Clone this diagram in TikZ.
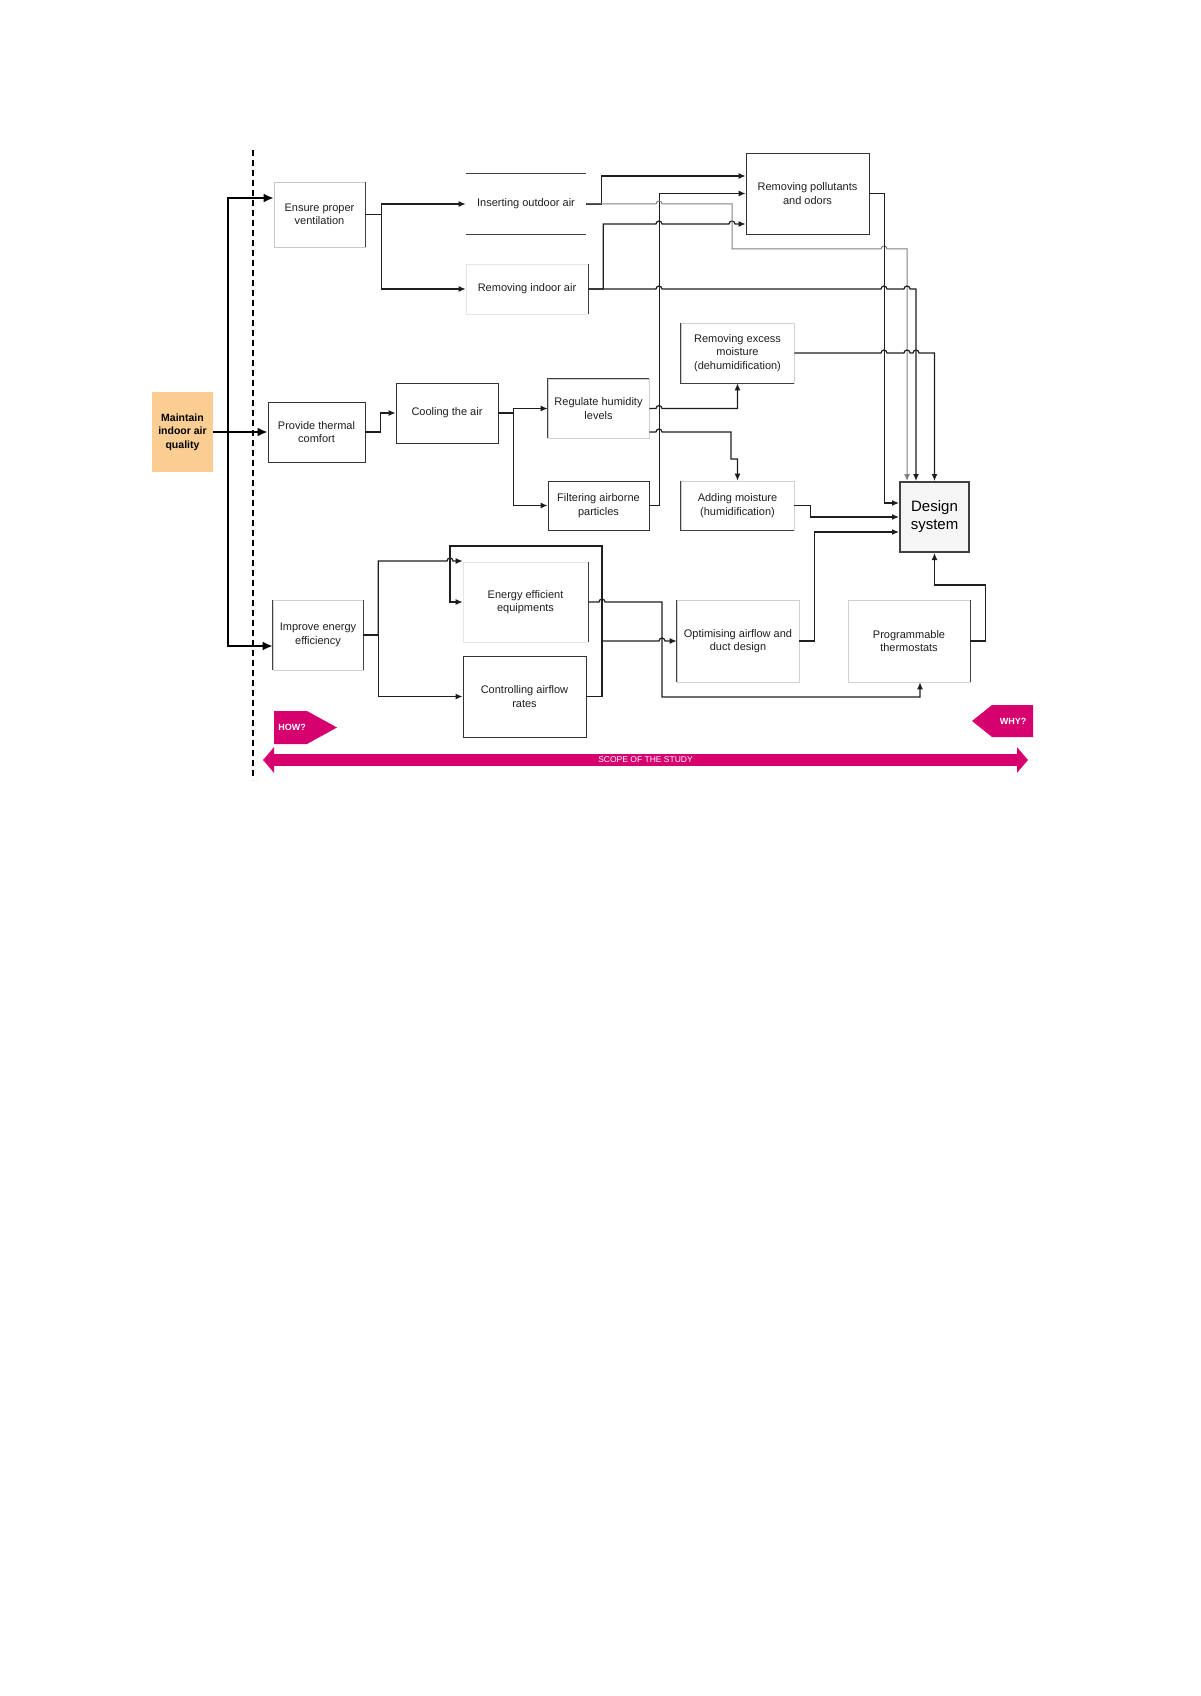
\documentclass[tikz,border=0pt]{standalone}
\usepackage{fontspec}
\setmainfont{Liberation Sans}
\usetikzlibrary{arrows.meta,calc}
\definecolor{iaqorange}{RGB}{250,206,146}
\definecolor{iaqpink}{RGB}{214,0,111}
\definecolor{iaqink}{RGB}{30,30,30}
\newcommand{\hopat}[2]{-- (#1-3,#2) arc[start angle=180,end angle=360,radius=3]}

\begin{document}
\begin{tikzpicture}[x=1pt,y=-1pt,
  font=\fontsize{11}{13.5}\selectfont, >={Latex[length=7pt,width=6pt]},
  box/.style={draw=black!80,line width=.9pt,fill=white,text=iaqink,align=center,inner sep=1pt},
  pale/.style={draw=black!18,line width=.6pt,text=iaqink,align=center,inner sep=1pt},
  rim/.style={draw=black!75,line width=1pt},
  hub/.style={draw=black!75,line width=2pt,fill=black!4,align=center,inner sep=1pt,
    font=\fontsize{15}{18}\selectfont},
  goal/.style={fill=iaqorange,align=center,inner sep=1pt,
    font=\fontsize{10.5}{13.5}\selectfont\bfseries},
  arr/.style={->,line width=1.2pt,draw=iaqink},
  faint/.style={->,line width=1pt,draw=black!50},
  spine/.style={-{Latex[length=10pt,width=9pt]},line width=2.4pt,draw=black},
  tag/.style={text=white,font=\fontsize{9}{10}\selectfont\bfseries,inner sep=0pt},
  scopebar/.style={draw=iaqpink,line width=12pt,
    {Triangle[length=11pt,width=25pt]}-{Triangle[length=11pt,width=25pt]}}
]
\useasboundingbox (0,0) rectangle (1200,1696);

% boundary of the study
\draw[line width=1.1pt,dash pattern=on 6pt off 4pt] (253,150) -- (253,780);

\node[goal,minimum width=61pt,minimum height=80pt] (maintain) at (182.5,432) {Maintain\\indoor air\\quality};

\node[pale,draw=black!22,minimum width=91pt,minimum height=65pt] (ventil) at (319.5,214.5) {Ensure proper\\ventilation};
\node[box,minimum width=97pt,minimum height=60pt] (thermal) at (316.5,432) {Provide thermal\\comfort};
\node[pale,minimum width=90pt,minimum height=70pt] (energy) at (318,635) {Improve energy\\efficiency};

\node[pale,draw=none,minimum width=120pt,minimum height=60pt] (insert) at (526,204) {Inserting outdoor air};
\node[pale,draw=black!10,minimum width=122pt,minimum height=50pt] (remove) at (527,289) {Removing indoor air};
\node[box,minimum width=102pt,minimum height=60pt] (cooling) at (447,413) {Cooling the air};
\node[pale,minimum width=101pt,minimum height=59pt] (regulate) at (598.5,408.5) {Regulate humidity\\levels};
\node[box,minimum width=101pt,minimum height=49pt] (filter) at (598.5,505.5) {Filtering airborne\\particles};
\node[pale,draw=black!10,minimum width=125pt,minimum height=80pt] (equip) at (525.5,602) {Energy efficient\\equipments};
\node[box,minimum width=123pt,minimum height=81pt] (control) at (524.5,696.5) {Controlling airflow\\rates};

\node[box,minimum width=123pt,minimum height=81pt] (pollut) at (807.5,193.5) {Removing pollutants\\and odors};
\node[pale,minimum width=113pt,minimum height=60pt] (dehum) at (737.5,353) {Removing excess\\moisture\\(dehumidification)};
\node[pale,minimum width=113pt,minimum height=49pt] (humid) at (737.5,505.5) {Adding moisture\\(humidification)};
\node[pale,minimum width=122pt,minimum height=82pt] (optim) at (738,641) {Optimising airflow and\\duct design};
\node[pale,minimum width=122pt,minimum height=82pt] (thermo) at (909,641) {Programmable\\thermostats};
\node[hub,minimum width=69pt,minimum height=70pt] (design) at (934.5,517) {Design\\system};

% visible box sides
\draw[rim] (ventil.north east) -- (ventil.south east);
\draw[rim] (insert.north west) -- (insert.north east);
\draw[rim] (insert.south west) -- (insert.south east);
\draw[rim] (remove.north east) -- (remove.south east);
\draw[rim] (regulate.south west) -- (regulate.north west) -- (regulate.north east);
\draw[rim] (dehum.north west) -- (dehum.south west) -- (dehum.south east);
\draw[rim] (humid.north west) -- (humid.south west) -- (humid.south east);
\draw[rim] (energy.north west) -- (energy.south west);
\draw[rim] (energy.north east) -- (energy.south east);
\draw[rim] (equip.north east) -- (equip.south east);
\draw[rim] (optim.north west) -- (optim.south west);
\draw[rim] (thermo.north east) -- (thermo.south east);

% how
\coordinate (fork) at (228,432);
\draw[spine] (maintain.east) -- (thermal.west);
\draw[spine] (fork) |- ($(ventil.west)+(0,-16.5)$);
\draw[spine] (fork) |- ($(energy.west)+(0,11)$);

\draw[arr] (ventil.east) -- ++(16,0) |- (insert.west);
\draw[arr] (ventil.east) -- ++(16,0) |- (remove.west);
\draw[arr] (thermal.east) -- ++(15,0) |- (cooling.west);
\draw[arr] (cooling.east) -- ++(15,0) |- (regulate.west);
\draw[arr] (cooling.east) -- ++(15,0) |- (filter.west);

% towards pollutants and odors
\draw[arr] (insert.east) -- ++(15,0) |- ($(pollut.west)+(0,-17.5)$);
\draw[arr] (filter.east) -- ++(10,0) |- (pollut.west);
\draw[arr] (remove.east) -- ++(15,0) -- ++(0,-65) \hopat{659}{224} \hopat{732}{224} -- ($(pollut.west)+(0,30.5)$);

% towards the design system
\draw[faint] (insert.east) \hopat{659}{204} -- (732,204) -- (732,249) \hopat{884}{249} -- (907,249) -- ($(design.north)+(-27.5,0)$);
\draw[arr] (remove.east) \hopat{659}{289} \hopat{884}{289} \hopat{907}{289} -- (916,289) -- ($(design.north)+(-18.5,0)$);
\draw[arr] (pollut.east) -- ++(15,0) |- ($(design.west)+(0,-14)$);
\draw[arr] (dehum.east) \hopat{884}{353} \hopat{907}{353} \hopat{916}{353} -| (design.north);
\draw[arr] (humid.east) -- ++(16,0) |- (design.west);
\draw[arr] (optim.east) -- ++(15,0) |- ($(design.west)+(0,15)$);
\draw[arr] (thermo.east) -- ++(15,0) -- ++(0,-56) -| (design.south);

% humidity
\draw[arr] (regulate.east) \hopat{659}{408.5} -| (dehum.south);
\draw[arr] ($(regulate.east)+(0,23.5)$) \hopat{659}{432} -- (731,432) -- (731,459) -| (humid.north);

% energy efficiency
\draw[arr] (energy.east) -- ++(15,0) -- ++(0,-74) \hopat{450}{561} -- ($(equip.west)+(0,-41)$);
\draw[arr] (energy.east) -- ++(15,0) |- (control.west);
\draw[arr] (control.east) -| (602,546) -| (450,602) -- (equip.west);
\coordinate (split) at (602,641);
\draw[arr] (split) \hopat{662}{641} -- (optim.west);
\draw[arr] (equip.east) \hopat{602}{602} -- (662,602) -- (662,697) -| ($(thermo.south)+(11,0)$);

% how / why / scope
\fill[iaqpink] (274,711) -- (307,711) -- (337,727.5) -- (307,744) -- (274,744) -- cycle;
\node[tag] (how) at (292,727.5) {HOW?};
\fill[iaqpink] (1033,705) -- (992,705) -- (972,721) -- (992,737) -- (1033,737) -- cycle;
\node[tag] (why) at (1013,721) {WHY?};
\coordinate (scopel) at (263,760);
\coordinate (scoper) at (1028,760);
\draw[scopebar] (scopel) -- node[text=white,font=\fontsize{8.5}{10}\selectfont,inner sep=0pt] (scopetxt) {SCOPE OF THE STUDY} (scoper);
\end{tikzpicture}
\end{document}
